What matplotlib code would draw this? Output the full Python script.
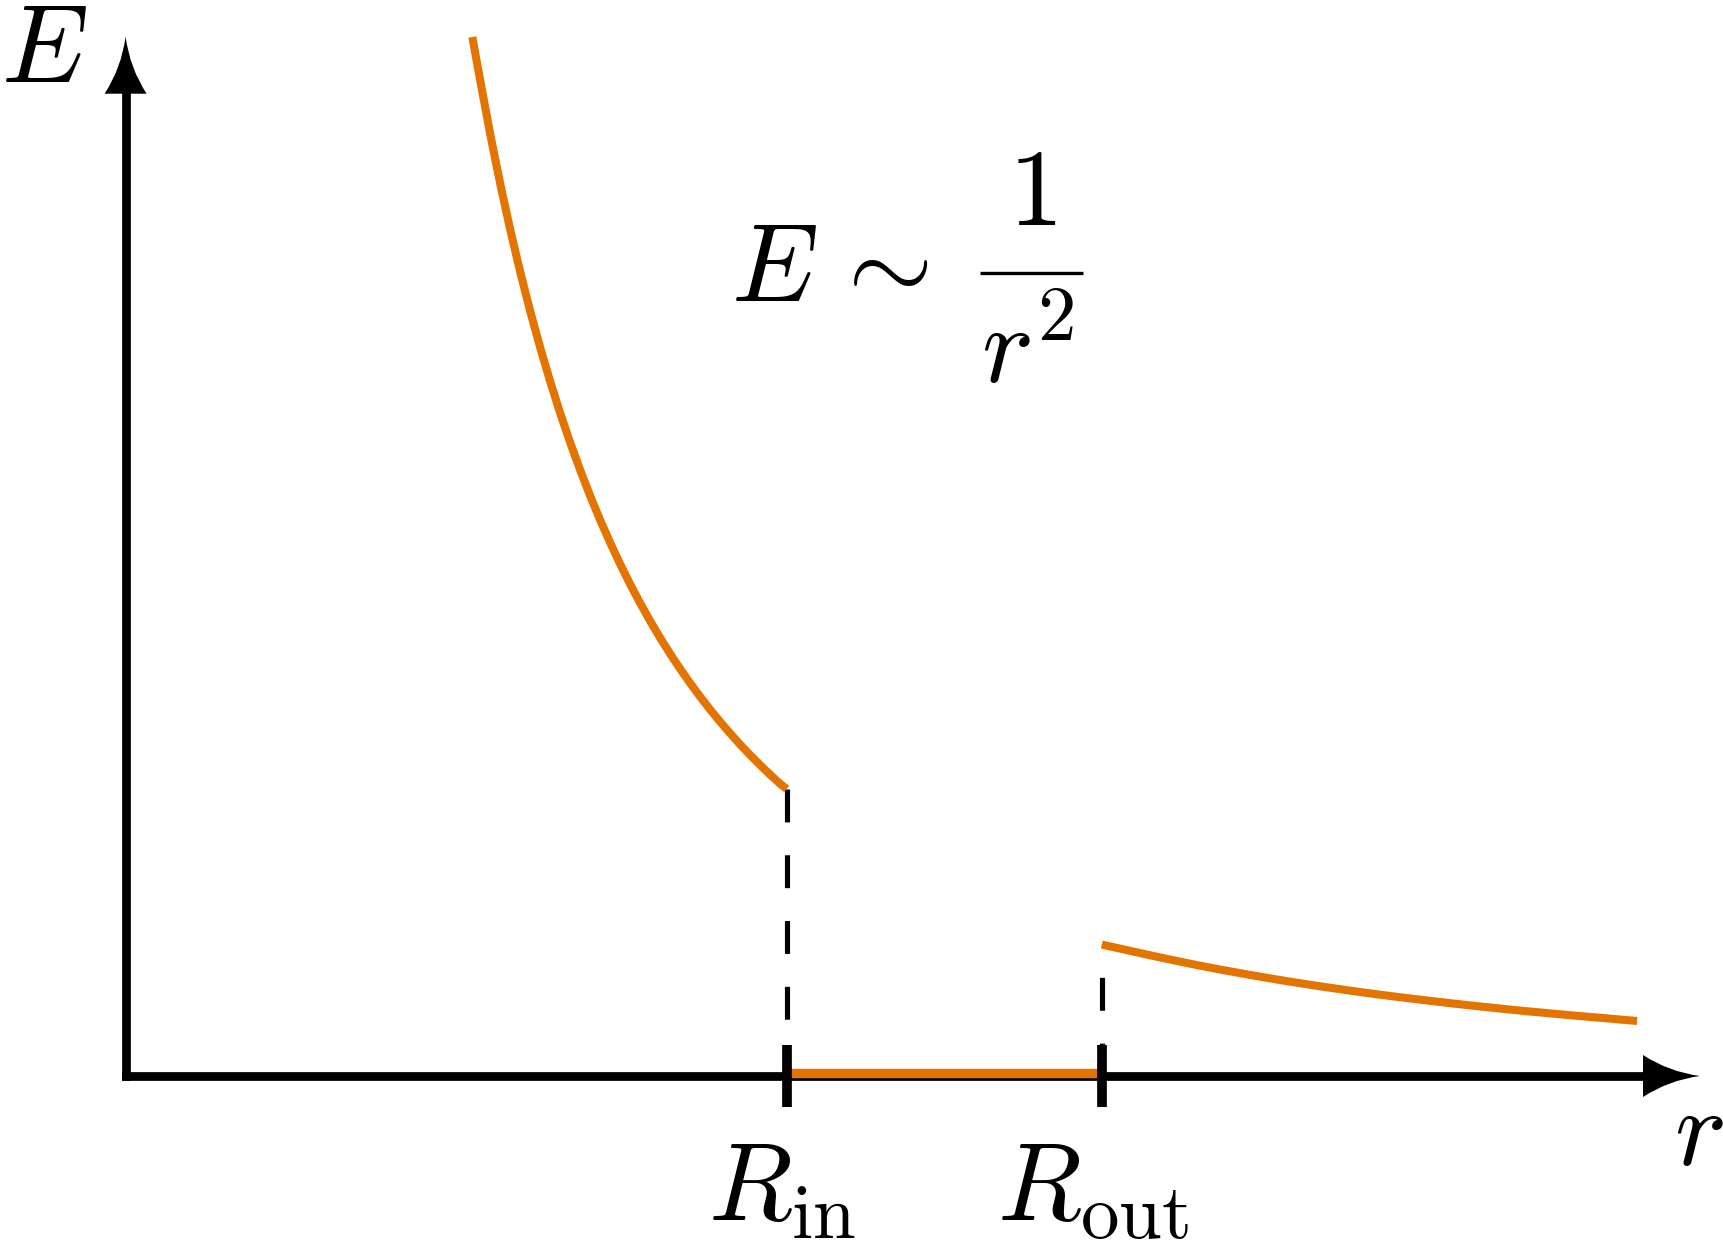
import numpy as np
import matplotlib.pyplot as plt
from matplotlib.path import Path
from matplotlib.patches import PathPatch

plt.rcParams['mathtext.fontset'] = 'cm'

# radius units: 1 = 100 px of the picture, origin at the axes corner
r_in = 6.611
r_out = 9.761

# field inside (r < R_in)
r_inner = [3.467, 3.55, 3.65, 3.75, 3.85, 3.95, 4.05, 4.15, 4.25, 4.35,
           4.45, 4.55, 4.65, 4.75, 4.85, 4.95, 5.05, 5.15, 5.25, 5.35,
           5.45, 5.55, 5.65, 5.75, 5.85, 5.95, 6.05, 6.15, 6.25, 6.35,
           6.45, 6.55, 6.611]
e_inner = [10.39, 9.934, 9.398, 8.903, 8.447, 8.024, 7.633, 7.270, 6.931, 6.616,
           6.322, 6.048, 5.790, 5.549, 5.323, 5.110, 4.909, 4.721, 4.542, 4.374,
           4.215, 4.065, 3.922, 3.787, 3.658, 3.537, 3.421, 3.310, 3.205, 3.105,
           3.009, 2.918, 2.870]

# zero field in the shell
r_shell = [r_in, r_out]
e_shell = [0.0, 0.0]

# field outside (r > R_out)
r_outer = [9.762, 10.0, 10.25, 10.5, 10.75, 11.0, 11.25, 11.5, 11.75, 12.0,
           12.25, 12.5, 12.75, 13.0, 13.25, 13.5, 13.75, 14.0, 14.25, 14.5,
           14.75, 15.0, 15.115]
e_outer = [1.314, 1.262, 1.206, 1.153, 1.102, 1.055, 1.010, 0.967, 0.927, 0.889,
           0.853, 0.819, 0.787, 0.757, 0.728, 0.700, 0.674, 0.649, 0.626, 0.603,
           0.582, 0.560, 0.550]

tick_labels = [r'$R_{\rm in}$', r'$R_{\rm out}$']
label_shift = [-0.05, -0.09]

orange = '#e37400'
fs = 79


def arrow_head(ax, tip, direction, length=0.57, half=0.21):
    tip = np.array(tip, float)
    d = np.array(direction, float)
    n = np.array([-d[1], d[0]])
    base = tip - length * d
    left = base + half * n
    right = base - half * n
    c_left = tip - 0.55 * length * d + 0.2 * half * n
    c_right = tip - 0.55 * length * d - 0.2 * half * n
    verts = [tip, c_left, left, right, c_right, tip, tip]
    codes = [Path.MOVETO, Path.CURVE3, Path.CURVE3, Path.LINETO,
             Path.CURVE3, Path.CURVE3, Path.CLOSEPOLY]
    ax.add_patch(PathPatch(Path(verts, codes), facecolor='black',
                           edgecolor='none', zorder=5))


fig = plt.figure(figsize=(17.23, 12.42), dpi=100)
ax = fig.add_axes([0, 0, 1, 1])
ax.set_xlim(-1.256, 15.974)
ax.set_ylim(-1.66, 10.76)
ax.axis('off')

# axes with arrows
x_tip, y_tip = 15.744, 10.393
ax.plot([0, x_tip - 0.4], [0, 0], color='black', lw=6.3, solid_capstyle='projecting', zorder=3)
ax.plot([0, 0], [0, y_tip - 0.4], color='black', lw=6.3, solid_capstyle='projecting', zorder=3)
arrow_head(ax, (x_tip, 0), (1, 0))
arrow_head(ax, (0, y_tip), (0, 1))

# field curves
ax.plot(r_inner, e_inner, color=orange, lw=5.8, solid_capstyle='butt',
        solid_joinstyle='round', zorder=4)
ax.plot(r_outer, e_outer, color=orange, lw=5.8, solid_capstyle='butt',
        solid_joinstyle='round', zorder=4)
ax.plot(r_shell, np.array(e_shell) + 0.03, color=orange, lw=6.8,
        solid_capstyle='butt', zorder=4)

# dashed guides
ax.plot([r_in, r_in], [e_inner[-1], 0], color='black', lw=3.7,
        linestyle=(0, (6.4, 6.4)), zorder=2)
ax.plot([r_out, r_out], [0, e_outer[0]], color='black', lw=3.7,
        linestyle=(0, (6.4, 6.4)), zorder=2)

# ticks and labels
for r, lab, dx in zip([r_in, r_out], tick_labels, label_shift):
    ax.plot([r, r], [-0.31, 0.31], color='black', lw=7.0, solid_capstyle='butt', zorder=4.5)
    ax.text(r + dx, -1.44, lab, fontsize=fs, ha='center', va='baseline')

ax.text(-1.25, 10.78, r'$E$', fontsize=fs, ha='left', va='top')
ax.text(15.729, -0.89, r'$r$', fontsize=fs, ha='center', va='baseline')

# E ~ 1/r^2
ax.text(6.05, 7.753, r'$E\,\sim$', fontsize=fs, ha='left', va='baseline')
ax.text(9.069, 8.51, r'$1$', fontsize=fs, ha='center', va='baseline')
ax.plot([8.544, 9.574], [8.033, 8.033], color='black', lw=2.4, solid_capstyle='butt')
ax.text(9.024, 6.93, r'$r^2$', fontsize=fs, ha='center', va='baseline')

fig.savefig('out.png', dpi=100)
